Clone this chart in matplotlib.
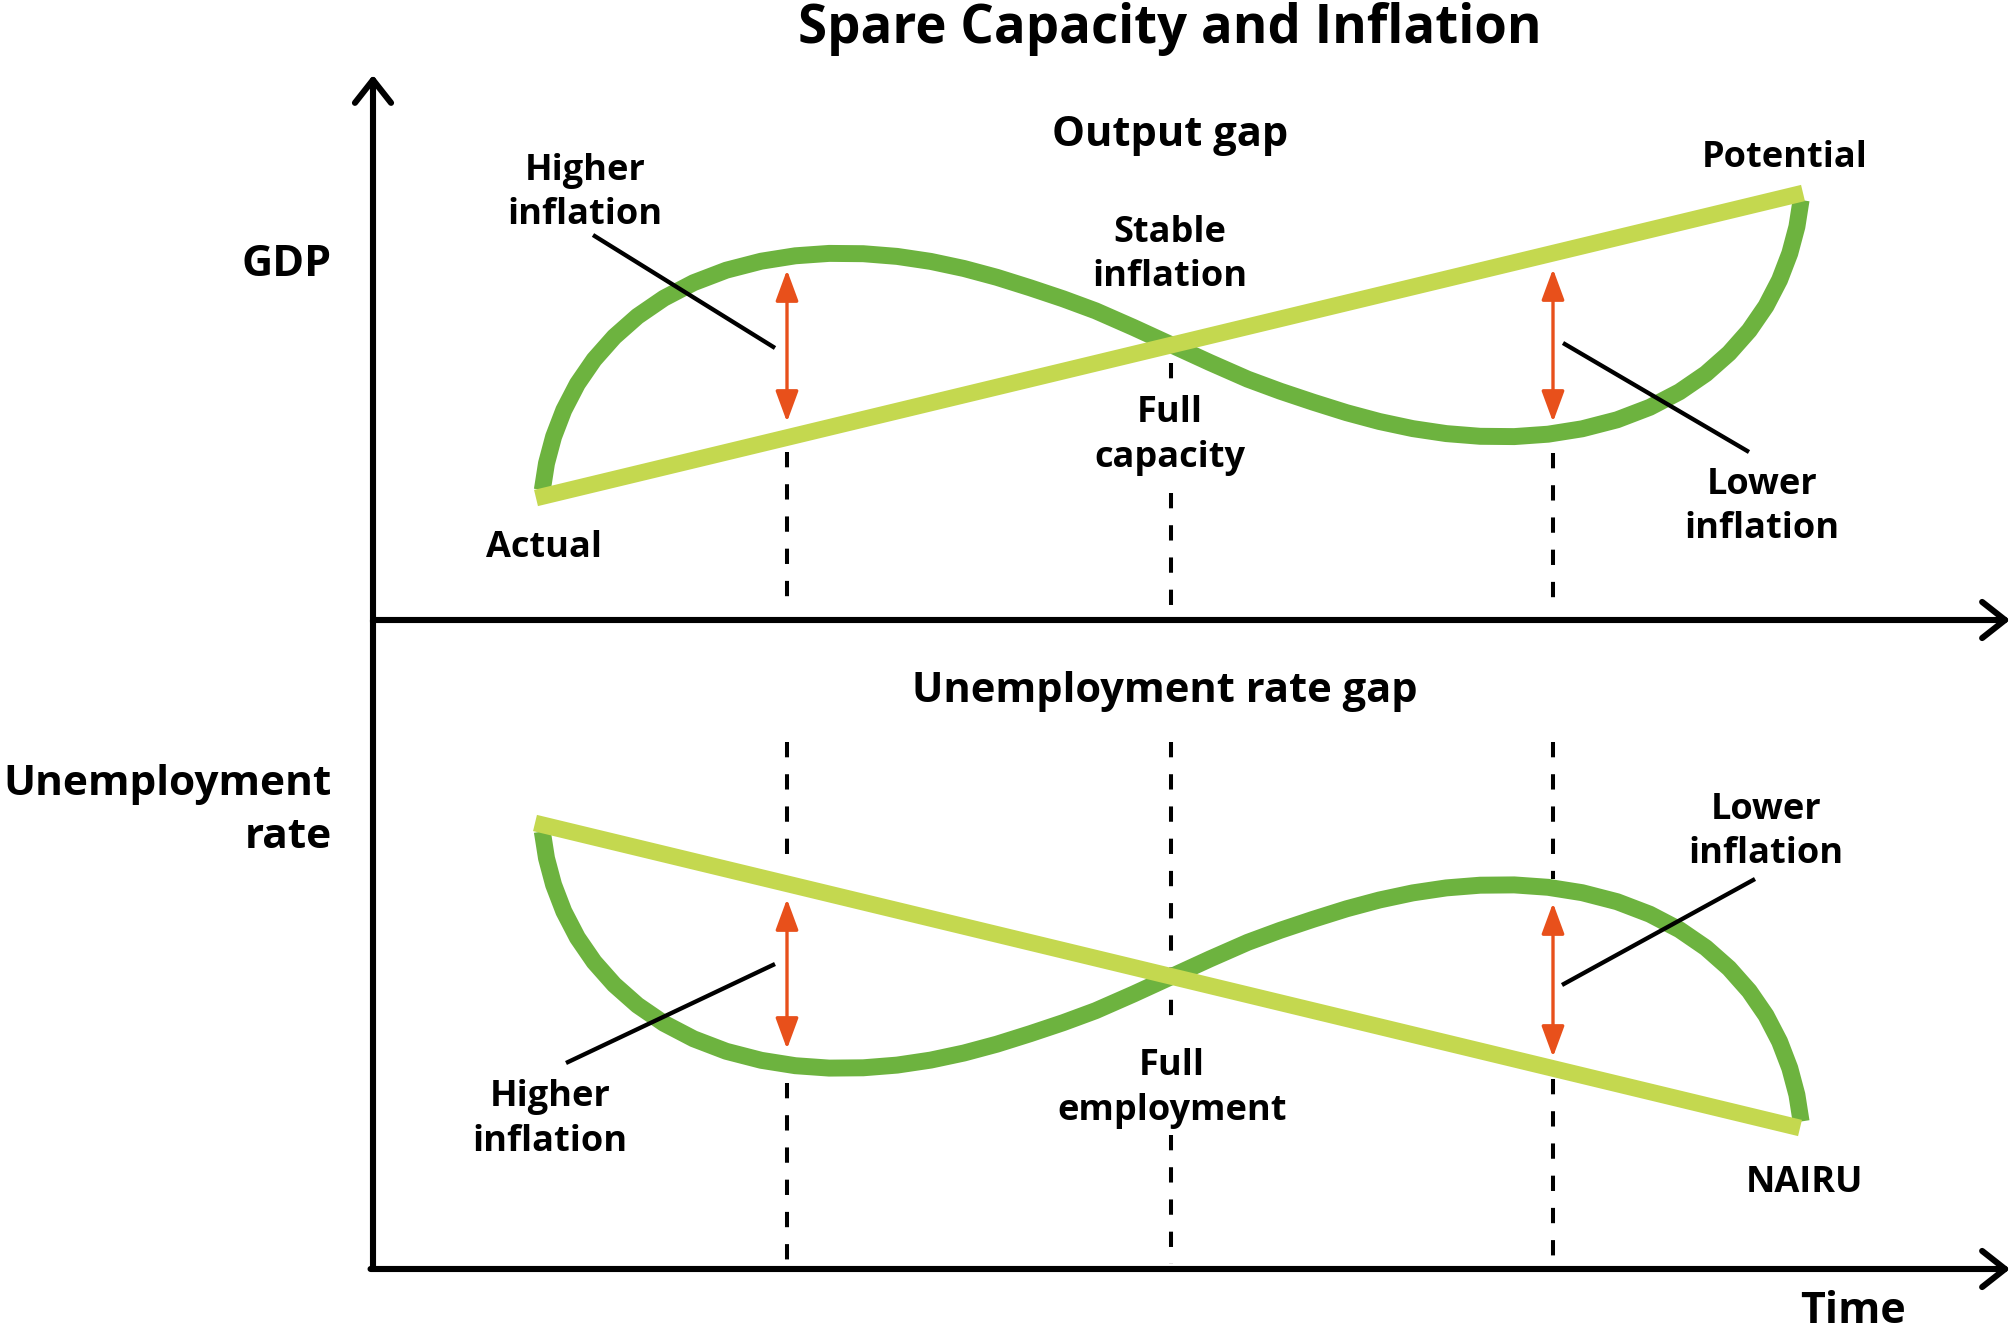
import matplotlib.pyplot as plt

plt.rcParams['font.family'] = ['Open Sans', 'DejaVu Sans']
plt.rcParams['font.weight'] = 'bold'

# ---- data (time units / index units) ----
time = [16.93, 17.35, 18.06, 19.08, 20.44, 22.11, 24.13, 26.45, 29.09, 32.06,
        35.33, 38.82, 42.23, 45.62, 49.02, 52.41, 55.77, 59.1, 62.38, 65.72,
        69.01, 72.26, 76.06, 79.87, 83.68, 87.48, 90.73, 94.02, 97.36, 100.64,
        103.97, 107.33, 110.72, 114.12, 117.51, 120.92, 124.41, 127.68, 130.65, 133.29,
        135.61, 137.63, 139.3, 140.66, 141.68, 142.39, 142.81]
gdp_actual = [13.0, 15.67, 18.33, 20.99, 23.61, 26.04, 28.32, 30.37, 32.18, 33.73,
              34.98, 35.88, 36.42, 36.66, 36.63, 36.36, 35.86, 35.15, 34.27, 33.22,
              32.12, 30.92, 29.25, 27.5, 25.75, 24.08, 22.88, 21.78, 20.73, 19.85,
              19.14, 18.64, 18.37, 18.34, 18.58, 19.12, 20.02, 21.27, 22.82, 24.63,
              26.68, 28.96, 31.39, 34.01, 36.67, 39.33, 42.0]
unemp_actual = [43.75, 41.08, 38.42, 35.76, 33.14, 30.71, 28.43, 26.38, 24.57, 23.02,
                21.77, 20.87, 20.33, 20.09, 20.12, 20.39, 20.89, 21.6, 22.48, 23.53,
                24.63, 25.83, 27.5, 29.25, 31.0, 32.67, 33.87, 34.97, 36.02, 36.9,
                37.61, 38.11, 38.38, 38.41, 38.17, 37.63, 36.73, 35.48, 33.93, 32.12,
                30.07, 27.79, 25.36, 22.74, 20.08, 17.42, 14.75]
pot_time = [16.3, 143.0]
gdp_potential = [12.2, 42.7]
nairu_time = [16.2, 142.7]
nairu = [44.6, 14.1]

# times of the three marked points (higher inflation, stable, lower inflation)
marks_t = [41.4, 79.8, 118.0]

DARK = '#6db33f'
LIGHT = '#c4d84f'
ORANGE = '#e8501b'

W, H = 2012, 1336
fig = plt.figure(figsize=(W / 100, H / 100), dpi=100)


def fx(x):
    return x / W


def fy(y):
    return 1 - y / H


# top panel: origin (373,620) px, bottom panel: origin (373,1269) px
ax1 = fig.add_axes([fx(373), fy(620), (2010 - 373) / W, (620 - 75) / H])
ax2 = fig.add_axes([fx(373), fy(1269), (2010 - 373) / W, (1269 - 620) / H])
ax1.set_xlim(0, 163.7)
ax1.set_ylim(0, 54.5)
ax2.set_xlim(0, 163.7)
ax2.set_ylim(0, 64.9)
for ax in (ax1, ax2):
    ax.axis('off')

  # axis lines with open arrow heads
axkw = dict(arrowstyle='->,head_length=16.5,head_width=13', mutation_scale=1,
            lw=4.4, color='black', shrinkA=0, shrinkB=0)
ax1.annotate('', xy=(1, 0), xytext=(0, 0), xycoords='axes fraction', arrowprops=axkw)
ax1.annotate('', xy=(0, 1), xytext=(0, -0.004), xycoords='axes fraction', arrowprops=axkw)
ax2.annotate('', xy=(1, 0), xytext=(-0.0015, 0), xycoords='axes fraction', arrowprops=axkw)
ax2.plot([0, 0], [0, 1], transform=ax2.transAxes, color='black', lw=4.4,
         solid_capstyle='butt', clip_on=False)

  # dashed guide lines
dash = dict(color='black', lw=2.9, ls=(0, (3.8, 4.2)), zorder=1)
top_segs = [(marks_t[0], 16.8, 1.3), (marks_t[1], 25.7, 24.1), (marks_t[1], 12.7, 1.3),
            (marks_t[2], 16.7, 1.3)]
bot_segs = [(marks_t[0], 52.7, 39.9), (marks_t[0], 18.6, 0.5),
            (marks_t[1], 52.7, 23.9), (marks_t[1], 13.4, 0.5),
            (marks_t[2], 52.7, 39.0), (marks_t[2], 19.0, 0.5)]
for t, a, b in top_segs:
    ax1.plot([t, t], [a, b], **dash)
for t, a, b in bot_segs:
    ax2.plot([t, t], [a, b], **dash)

  # curves
ax1.plot(time, gdp_actual, color=DARK, lw=12.2, solid_capstyle='butt',
         solid_joinstyle='round', zorder=2)
ax1.plot(pot_time, gdp_potential, color=LIGHT, lw=12.0, solid_capstyle='butt', zorder=3)
ax2.plot(time, unemp_actual, color=DARK, lw=12.2, solid_capstyle='butt',
         solid_joinstyle='round', zorder=2)
ax2.plot(nairu_time, nairu, color=LIGHT, lw=12.0, solid_capstyle='butt', zorder=3)

  # orange gap arrows
arkw = dict(arrowstyle='<|-|>,head_length=19,head_width=7', mutation_scale=1,
            lw=2.4, color=ORANGE, shrinkA=0, shrinkB=0)
ax1.annotate('', xy=(marks_t[0], 35.0), xytext=(marks_t[0], 19.8), arrowprops=arkw, zorder=4)
ax1.annotate('', xy=(marks_t[2], 35.1), xytext=(marks_t[2], 19.8), arrowprops=arkw, zorder=4)
ax2.annotate('', xy=(marks_t[0], 37.0), xytext=(marks_t[0], 22.0), arrowprops=arkw, zorder=4)
ax2.annotate('', xy=(marks_t[2], 36.6), xytext=(marks_t[2], 21.2), arrowprops=arkw, zorder=4)

  # leader lines
lead = dict(color='black', lw=3.1, solid_capstyle='butt', zorder=5)
ax1.plot([22.0, 40.2], [38.5, 27.2], **lead)
ax1.plot([119.0, 137.6], [27.7, 16.8], **lead)
ax2.plot([40.2, 19.3], [30.5, 20.6], **lead)
ax2.plot([118.9, 138.2], [28.4, 39.0], **lead)

  # labels inside panels
fs = 26
txt = dict(ha='center', va='center', fontsize=fs, linespacing=1.3)
ax1.text(79.7, 48.5, 'Output gap', ha='center', va='center', fontsize=30)
ax1.text(21.2, 42.7, 'Higher\ninflation', **txt)
ax1.text(79.7, 36.5, 'Stable\ninflation', **txt)
ax1.text(141.2, 46.2, 'Potential', **txt)
ax1.text(79.7, 18.45, 'Full\ncapacity', **txt)
ax1.text(17.1, 7.2, 'Actual', **txt)
ax1.text(138.9, 11.3, 'Lower\ninflation', **txt)
ax2.text(79.2, 57.8, 'Unemployment rate gap', ha='center', va='center', fontsize=30)
ax2.text(139.3, 43.7, 'Lower\ninflation', **txt)
ax2.text(17.7, 14.95, 'Higher\ninflation', **txt)
ax2.text(79.9, 18.05, 'Full\nemployment', **txt)
ax2.text(143.1, 8.6, 'NAIRU', **txt)

  # outer labels
fig.text(fx(1170), fy(29), 'Spare Capacity and Inflation', ha='center', va='center',
         fontsize=38)
fig.text(fx(332), fy(264), 'GDP', ha='right', va='center', fontsize=31)
fig.text(fx(332), fy(811), 'Unemployment\nrate', ha='right', va='center', fontsize=30.5,
         multialignment='right', linespacing=1.36)
fig.text(fx(1853), fy(1323), 'Time', ha='center', va='baseline', fontsize=31)

fig.savefig('out.png', dpi=100, facecolor='white')
